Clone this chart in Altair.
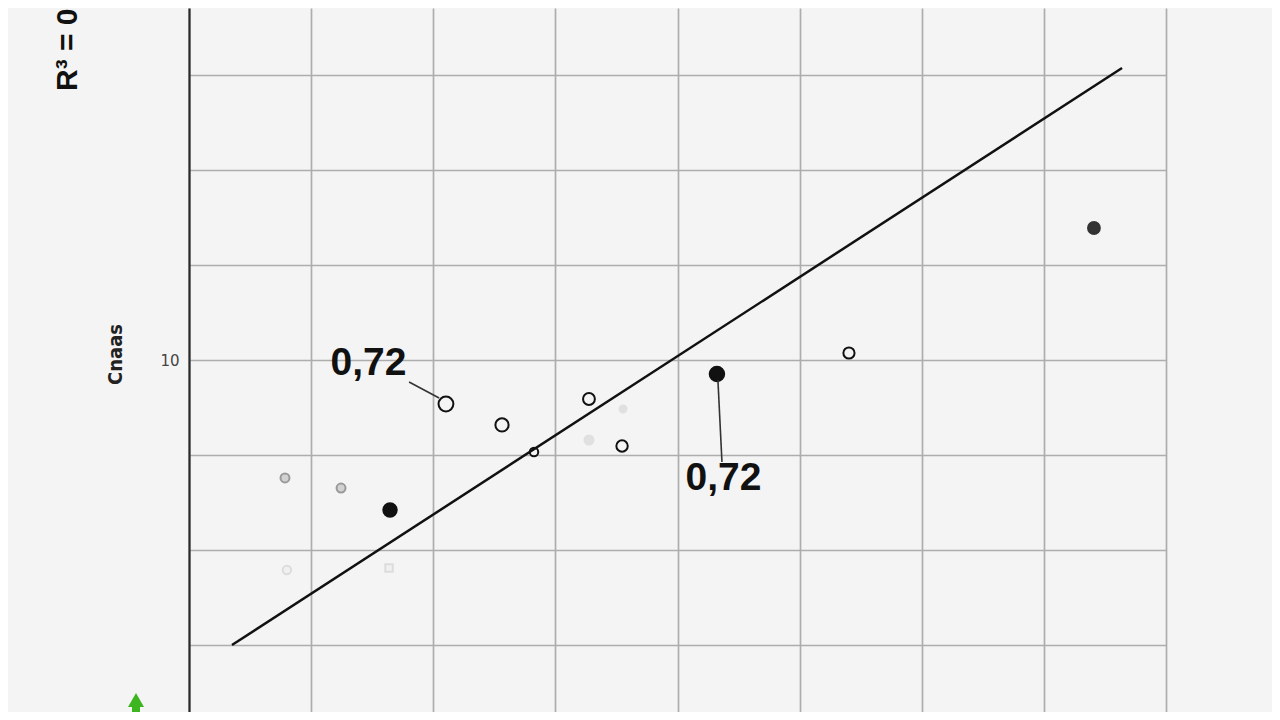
import altair as alt
import pandas as pd

# ---- data ----
pt_x = [2.104, 2.563, 3.275, 2.825, 3.546, 3.554, 3.275, 4.323, 5.404, 7.410, 0.786, 1.245, 1.646, 0.802, 1.638]
pt_y = [9.074, 8.632, 9.179, 8.063, 8.189, 8.968, 8.316, 9.705, 10.147, 12.779, 7.516, 7.305, 6.842, 5.579, 5.621]
pt_n = [220, 175, 140, 72, 130, 49, 81, 210, 125, 140, 80, 80, 180, 70, 56]
pt_kind = ["open", "open", "open", "open", "open", "ghost", "ghost", "solid", "open", "dark",
           "grey", "grey", "solid", "faint", "faintsq"]

fit_x = [0.352, 7.640]
fit_y = [4.0, 16.147]

ann_text = ["0,72", "0,72"]
ann_x = [1.470, 4.377]
ann_y = [9.937, 7.516]
lead_x1 = [1.802, 4.331]
lead_y1 = [9.537, 9.579]
lead_x2 = [2.048, 4.364]
lead_y2 = [9.200, 7.853]

y_ticks = [4, 6, 8, 10, 12, 14, 16]
x_ticks = [0, 1, 2, 3, 4, 5, 6, 7, 8]

pts = pd.DataFrame({"x": pt_x, "y": pt_y, "n": pt_n, "kind": pt_kind})
fit = pd.DataFrame({"x": fit_x, "y": fit_y})
ann = pd.DataFrame({"t": ann_text, "x": ann_x, "y": ann_y})
lead = pd.DataFrame({"x": lead_x1, "y": lead_y1, "x2": lead_x2, "y2": lead_y2})

kinds = ["open", "solid", "dark", "grey", "faint", "faintsq", "ghost"]
fills = ["#f4f4f4", "#111111", "#333333", "#d2d2d2", "#f0f0f0", "#f0f0f0", "#e0e0e0"]
strokes = ["#111111", "#111111", "#333333", "#9a9a9a", "#dcdcdc", "#dcdcdc", "#e0e0e0"]
shapes = ["circle", "circle", "circle", "circle", "circle", "square", "circle"]

xs = alt.Scale(domain=[0, 8], nice=False, zero=False)
ys = alt.Scale(domain=[2.5895, 17.4105], nice=False, zero=False)

X = alt.X("x:Q", scale=xs,
          axis=alt.Axis(values=x_ticks, labels=False, ticks=False, domain=False, title=None,
                        grid=True, gridColor="#adadad", gridWidth=1.7))
Y = alt.Y("y:Q", scale=ys,
          axis=alt.Axis(values=y_ticks, ticks=False, grid=True, gridColor="#adadad", gridWidth=1.7,
                        domain=True, domainColor="#2a2a2a", domainWidth=2.2,
                        labelExpr="datum.value == 10 ? '10' : ''", labelFontSize=15,
                        labelColor="#444444", labelPadding=10, labelFont="DejaVu Sans",
                        title="Cnaas", titleAngle=270, titleX=-74, titleY=346,
                        titleAlign="center", titleBaseline="middle", titleFontSize=20,
                        titleFontWeight="bold", titleColor="#222222", titleFont="DejaVu Sans Condensed"))

points = alt.Chart(pts).mark_point(filled=False, strokeWidth=2, opacity=1).encode(
    x=X, y=Y,
    size=alt.Size("n:Q", scale=alt.Scale(domain=[0, 200], range=[0, 200], zero=True), legend=None),
    fill=alt.Fill("kind:N", scale=alt.Scale(domain=kinds, range=fills), legend=None),
    stroke=alt.Stroke("kind:N", scale=alt.Scale(domain=kinds, range=strokes), legend=None),
    shape=alt.Shape("kind:N", scale=alt.Scale(domain=kinds, range=shapes), legend=None),
)

line = alt.Chart(fit).mark_line(color="#111111", strokeWidth=2.5).encode(
    x=alt.X("x:Q", scale=xs), y=alt.Y("y:Q", scale=ys))

leaders = alt.Chart(lead).mark_rule(color="#333333", strokeWidth=1.6).encode(
    x=alt.X("x:Q", scale=xs), y=alt.Y("y:Q", scale=ys), x2="x2:Q", y2="y2:Q")

labels = alt.Chart(ann).mark_text(fontSize=39, fontWeight="bold", font="Liberation Sans",
                                  color="#111111", align="center", baseline="middle").encode(
    x=alt.X("x:Q", scale=xs), y=alt.Y("y:Q", scale=ys), text="t:N")

deco = pd.DataFrame({"k": [0]})
r_text = alt.Chart(deco).mark_text(text="R³ = 0", angle=270, fontSize=30, fontWeight="bold",
                                   font="Liberation Sans", color="#111111", align="left",
                                   baseline="middle", clip=False).encode(
    x=alt.value(-121), y=alt.value(83))

arrow_head = alt.Chart(deco).mark_point(shape="triangle-up", filled=True, color="#3cb521",
                                        size=256, opacity=1, clip=False).encode(
    x=alt.value(-53), y=alt.value(692))
arrow_shaft = alt.Chart(deco).mark_rule(color="#3cb521", strokeWidth=8, clip=False).encode(
    x=alt.value(-53), y=alt.value(696), y2=alt.value(712))

chart = alt.layer(points, line, leaders, labels, r_text, arrow_head, arrow_shaft).properties(
    width=977, height=704,
    autosize=alt.AutoSizeParams(type="none"),
    padding={"left": 181, "top": 0, "right": 106, "bottom": 0},
    background="#f4f4f4",
).configure_view(stroke=None, fill="#f4f4f4")

chart.save("out.html", embed_options={"renderer": "svg", "actions": False})
